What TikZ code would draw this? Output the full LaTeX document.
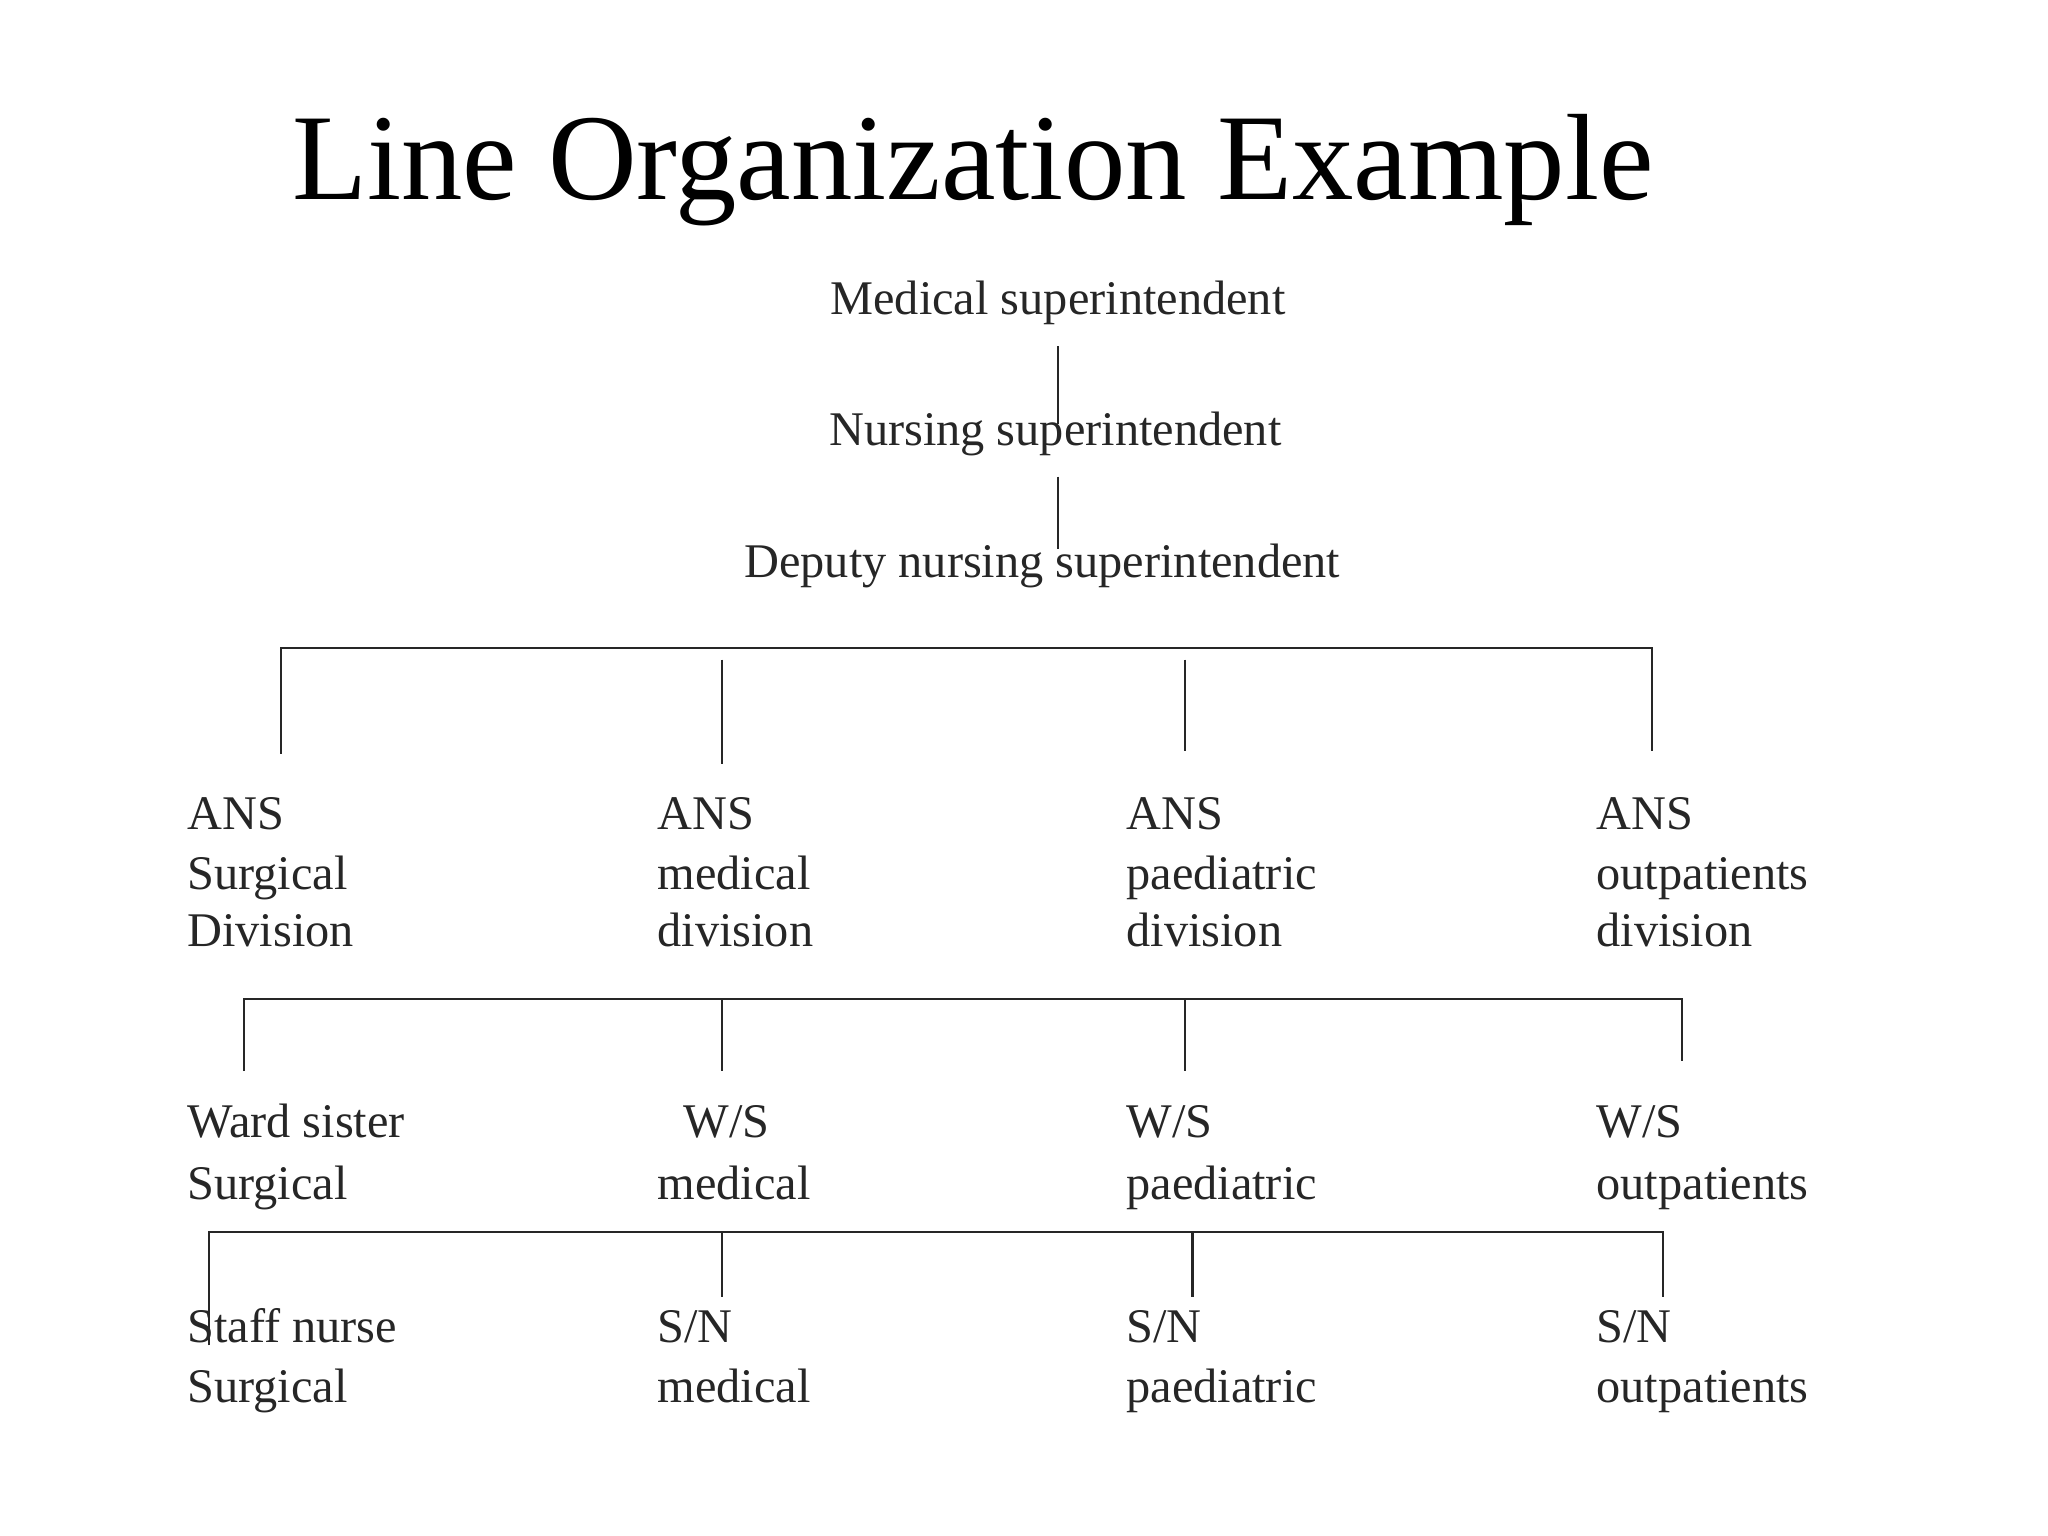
\documentclass[tikz,border=0pt]{standalone}
\usepackage{fontspec}
\setmainfont{Liberation Serif}
\begin{document}
\begin{tikzpicture}[x=0.5pt,y=-0.5pt,
  t/.style={inner sep=0pt,font=\fontsize{18.5}{22}\selectfont,text=black!85},
  tl/.style={t,anchor=base west},
  ln/.style={line width=0.8pt,black!85}]
\useasboundingbox (0,0) rectangle (1568,1176);
\node[inner sep=0pt,font=\fontsize{47}{56}\selectfont] (title) at (745,130) {Line Organization Example};
\node[t] (med) at (810,232) {Medical superintendent};
\node[t] (nur) at (808,332) {Nursing superintendent};
\node[t] (dep) at (798,433) {Deputy nursing superintendent};
\draw[ln] (810,265) -- (810,325);
\draw[ln] (810,365) -- (810,420);
% ANS row
\foreach \x/\n/\a/\b in {143/a1/Surgical/Division,503/a2/medical/division,862/a3/paediatric/division,1222/a4/outpatients/division}{
  \node[tl] (\n l1) at (\x,635) {ANS};
  \node[tl] (\n l2) at (\x,681) {\a};
  \node[tl] (\n l3) at (\x,725) {\b};
}
\draw[ln] (215,577) -- (215,496) -- (1265,496) -- (1265,575);
\draw[ln] (553,505) -- (553,585);
\draw[ln] (907,505) -- (907,575);
% W/S row
\node[tl] (w1a) at (143,871) {Ward sister};
\node[tl] (w1b) at (143,918) {Surgical};
\node[tl] (w2a) at (523,871) {W/S};
\node[tl] (w2b) at (503,918) {medical};
\node[tl] (w3a) at (862,871) {W/S};
\node[tl] (w3b) at (862,918) {paediatric};
\node[tl] (w4a) at (1222,871) {W/S};
\node[tl] (w4b) at (1222,918) {outpatients};
\draw[ln] (187,820) -- (187,765) -- (1288,765) -- (1288,812);
\draw[ln] (553,765) -- (553,820);
\draw[ln] (907,765) -- (907,820);
% S/N row
\node[tl] (s1a) at (143,1028) {Staff nurse};
\node[tl] (s1b) at (143,1074) {Surgical};
\node[tl] (s2a) at (503,1028) {S/N};
\node[tl] (s2b) at (503,1074) {medical};
\node[tl] (s3a) at (862,1028) {S/N};
\node[tl] (s3b) at (862,1074) {paediatric};
\node[tl] (s4a) at (1222,1028) {S/N};
\node[tl] (s4b) at (1222,1074) {outpatients};
\draw[ln] (160,1030) -- (160,943) -- (1273,943) -- (1273,993);
\draw[ln] (553,943) -- (553,993);
\draw[ln] (913,943) -- (913,993);
\end{tikzpicture}
\end{document}
